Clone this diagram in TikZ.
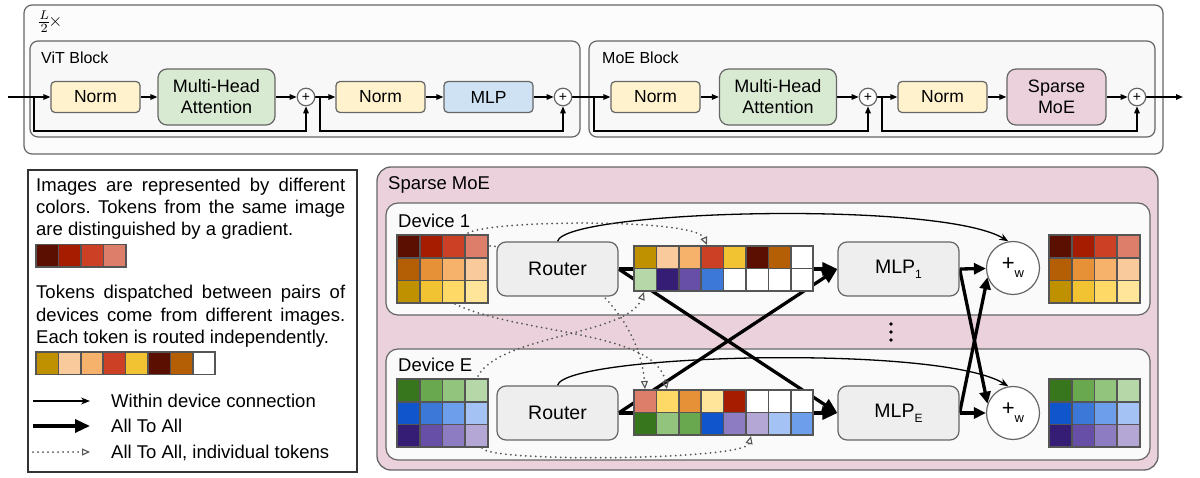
\documentclass[tikz,border=0pt]{standalone}
\usepackage{graphicx}
\usepackage{fontspec}
\setmainfont{Liberation Sans}
\usetikzlibrary{arrows.meta}
\pgfdeclarelayer{bg}
\pgfdeclarelayer{ln}
\pgfsetlayers{bg,ln,main}
\definecolor{bordc}{HTML}{666666}
\definecolor{normc}{HTML}{FFF2CC}
\definecolor{mhac}{HTML}{D9EAD3}
\definecolor{mlpc}{HTML}{CFE2F3}
\definecolor{moec}{HTML}{EAD1DC}
\definecolor{devc}{HTML}{FAFAFA}
\definecolor{outc}{HTML}{FCFCFC}
\definecolor{innc}{HTML}{F8F8F8}
\definecolor{routc}{HTML}{EEEEEE}
\definecolor{cellc}{HTML}{555555}
\definecolor{dotc}{HTML}{555555}
\definecolor{legc}{HTML}{333333}
\definecolor{r1}{HTML}{5B0F00}\definecolor{r2}{HTML}{A61C00}\definecolor{r3}{HTML}{CC4125}\definecolor{r4}{HTML}{DD7E6B}
\definecolor{o1}{HTML}{B45F06}\definecolor{o2}{HTML}{E69138}\definecolor{o3}{HTML}{F6B26B}\definecolor{o4}{HTML}{F9CB9C}
\definecolor{y1}{HTML}{BF9000}\definecolor{y2}{HTML}{F1C232}\definecolor{y3}{HTML}{FFD966}\definecolor{y4}{HTML}{FFE599}
\definecolor{g1}{HTML}{38761D}\definecolor{g2}{HTML}{6AA84F}\definecolor{g3}{HTML}{93C47D}\definecolor{g4}{HTML}{B6D7A8}
\definecolor{b1}{HTML}{1155CC}\definecolor{b2}{HTML}{3C78D8}\definecolor{b3}{HTML}{6D9EEB}\definecolor{b4}{HTML}{A4C2F4}
\definecolor{p1}{HTML}{351C75}\definecolor{p2}{HTML}{674EA7}\definecolor{p3}{HTML}{8E7CC3}\definecolor{p4}{HTML}{B4A7D6}
\newcommand{\tokrow}[4]{\foreach \tkc [count=\tki from 0] in {#4}{\draw[cellst,fill=\tkc] ({#1+\tki*#3},{#2}) rectangle ++(#3,#3);}}
\newcommand{\tokgrid}[5]{\tokrow{#1}{#2}{22.75}{#3}\tokrow{#1}{#2+22.75}{22.75}{#4}\tokrow{#1}{#2+45.5}{22.75}{#5}}
\frenchspacing
\begin{document}
\begin{tikzpicture}[x=1pt,y=-1pt,
  blk/.style={draw=bordc,line width=1.2pt,rounded corners=8pt},
  nbox/.style={draw=bordc,line width=1.2pt,rounded corners=4pt,minimum width=89pt,minimum height=31pt,inner sep=0pt,fill=normc,font=\fontsize{17.5}{21}\selectfont},
  bbox/.style={draw=bordc,line width=1.2pt,rounded corners=9pt,minimum width=117pt,minimum height=56pt,inner sep=0pt,align=center,fill=mhac,font=\fontsize{18}{21}\selectfont},
  pcirc/.style={circle,draw=bordc,line width=1.2pt,fill=white,minimum size=17.5pt,inner sep=0pt,font=\fontsize{14}{14}\selectfont},
  tarr/.style={line width=1.4pt,-{Triangle[length=7pt,width=5.5pt]}},
  rbox/.style={draw=bordc,line width=1.2pt,rounded corners=9pt,fill=routc,minimum width=121pt,minimum height=54pt,inner sep=0pt,font=\fontsize{19.5}{22}\selectfont},
  wcirc/.style={circle,draw=bordc,line width=1.2pt,fill=white,minimum size=53pt,inner sep=0pt,font=\fontsize{22}{22}\selectfont},
  tokph/.style={inner sep=0pt,outer sep=0pt,anchor=north west},
  cellst/.style={draw=cellc,line width=1.6pt},
  conthin/.style={line width=1.3pt,-{Stealth[length=9pt,width=7pt]}},
  conthick/.style={line width=3.3pt,-{Triangle[length=15pt,width=13pt]}},
  contw/.style={line width=3.3pt,-{Triangle[length=12pt,width=11pt]}},
  dotl/.style={draw=dotc,line width=2pt,dash pattern=on 0pt off 5pt,line cap=round,-{Triangle[open,length=8pt,width=7pt,line width=1.1pt]}},
  lbltxt/.style={inner sep=0pt,anchor=west,font=\fontsize{18.5}{22}\selectfont},
  legtxt/.style={inner sep=0pt,anchor=base west,font=\fontsize{18.5}{22}\selectfont},
]
\useasboundingbox (0,0) rectangle (1200,478);
\begin{pgfonlayer}{bg}
\draw[blk,fill=outc] (24,5) rectangle (1163,154);
\draw[blk,fill=innc] (30,41) rectangle (580,137);
\draw[blk,fill=innc] (589,41) rectangle (1155,137);
\draw[draw=bordc,line width=1.3pt,rounded corners=14pt,fill=moec] (377,167) rectangle (1158,470);
\draw[draw=bordc,line width=1.2pt,rounded corners=12pt,fill=devc] (386,203) rectangle (1150,315);
\draw[draw=bordc,line width=1.2pt,rounded corners=12pt,fill=devc] (386,349) rectangle (1150,460);
\draw[draw=legc,line width=1.5pt,fill=white] (28,170) rectangle (357,472);
\end{pgfonlayer}

% ---------- top ----------
\node[inner sep=0pt,anchor=west] (lx) at (37,22) {\scalebox{1.8}{$\frac{L}{2}\!\times$}};
\node[inner sep=0pt,anchor=west,font=\fontsize{16}{19}\selectfont] (vitl) at (41,58) {ViT Block};
\node[inner sep=0pt,anchor=west,font=\fontsize{16}{19}\selectfont] (moel) at (602,58) {MoE Block};
\node[nbox] (n1) at (95.5,97) {Norm};
\node[bbox] (a1) at (216.5,97) {Multi-Head\\Attention};
\node[pcirc] (p1) at (306,97) {+};
\node[nbox] (n2) at (380.5,97) {Norm};
\node[nbox,fill=mlpc] (m1) at (488.5,97) {MLP};
\node[pcirc] (p2) at (563,97) {+};
\node[nbox] (n3) at (655.5,97) {Norm};
\node[bbox] (a2) at (778,97) {Multi-Head\\Attention};
\node[pcirc] (p3) at (868,97) {+};
\node[nbox] (n4) at (942.5,97) {Norm};
\node[bbox,fill=moec,minimum width=99pt] (s1) at (1056.5,97) {Sparse\\MoE};
\node[pcirc] (p4) at (1137,97) {+};
\coordinate (inp) at (8,97);
\coordinate (outp) at (1183,97);
\coordinate (rs1) at (34,97);
\coordinate (rs2) at (320,97);
\coordinate (rs3) at (594,97);
\coordinate (rs4) at (882,97);

% ---------- bottom labels ----------
\node[lbltxt] (smoel) at (388,185) {Sparse MoE};
\node[lbltxt] (dev1l) at (398,221) {Device 1};
\node[lbltxt] (devEl) at (398,365) {Device E};

\node[rbox] (rt1) at (557.5,269) {Router};
\node[rbox] (rtE) at (557.5,413) {Router};
\node[rbox] (e1) at (898.5,269) {MLP\raisebox{-5pt}{\fontsize{12}{12}\selectfont 1}};
\node[rbox] (eE) at (898.5,413) {MLP\raisebox{-5pt}{\fontsize{12}{12}\selectfont E}};
\node[wcirc] (w1) at (1013,268) {+\raisebox{-7pt}{\fontsize{13}{13}\selectfont w}};
\node[wcirc] (wE) at (1013,413) {+\raisebox{-7pt}{\fontsize{13}{13}\selectfont w}};

\node[tokph,minimum width=91pt,minimum height=68.25pt] (in1) at (397,235) {};
\node[tokph,minimum width=91pt,minimum height=68.25pt] (inE) at (397,379) {};
\node[tokph,minimum width=91pt,minimum height=68.25pt] (out1) at (1049,235) {};
\node[tokph,minimum width=91pt,minimum height=68.25pt] (outE) at (1049,379) {};
\node[tokph,minimum width=179.2pt,minimum height=44.8pt] (buf1) at (634,246) {};
\node[tokph,minimum width=179.2pt,minimum height=44.8pt] (bufE) at (634,390) {};

\fill (891,324) circle (1.9);
\fill (891,332) circle (1.9);
\fill (891,340) circle (1.9);

% ---------- legend ----------
\node[legtxt] (t1) at (36,192) {\makebox[309pt][s]{Images are represented by different}};
\node[legtxt] (t2) at (36,214) {\makebox[309pt][s]{colors. Tokens from the same image}};
\node[legtxt] (t3) at (36,236) {are distinguished by a gradient.};
\node[legtxt] (t4) at (36,299) {\makebox[309pt][s]{Tokens dispatched between pairs of}};
\node[legtxt] (t5) at (36,322) {\makebox[309pt][s]{devices come from different images.}};
\node[legtxt] (t6) at (36,344) {Each token is routed independently.};
\node[legtxt] (t7) at (111,407) {Within device connection};
\node[legtxt] (t8) at (111,432) {All To All};
\node[legtxt] (t9) at (111,458) {All To All, individual tokens};
\coordinate (l1a) at (33,401); \coordinate (l1b) at (90,401);
\coordinate (l2a) at (33,426); \coordinate (l2b) at (90,426);
\coordinate (l3a) at (33,452); \coordinate (l3b) at (90,452);

% ---------- connectors ----------
\begin{pgfonlayer}{ln}
\draw[tarr] (inp) -- (n1);
\draw[tarr] (n1) -- (a1);
\draw[tarr] (a1) -- (p1);
\draw[tarr] (p1) -- (n2);
\draw[tarr] (n2) -- (m1);
\draw[tarr] (m1) -- (p2);
\draw[tarr] (p2) -- (n3);
\draw[tarr] (n3) -- (a2);
\draw[tarr] (a2) -- (p3);
\draw[tarr] (p3) -- (n4);
\draw[tarr] (n4) -- (s1);
\draw[tarr] (s1) -- (p4);
\draw[tarr] (p4) -- (outp);
\draw[tarr] (rs1) -- ++(0,34) -| (p1.south);
\draw[tarr] (rs2) -- ++(0,34) -| (p2.south);
\draw[tarr] (rs3) -- ++(0,34) -| (p3.south);
\draw[tarr] (rs4) -- ++(0,34) -| (p4.south);

\draw[conthin] (rt1.north) .. controls (565,210) and (940,200) .. (w1.100);
\draw[conthin] (rtE.north) .. controls (565,354) and (940,344) .. (wE.100);

\draw[conthick] (rt1.east) -- (e1.west);
\draw[conthick] (rt1.east) -- (eE.west);
\draw[conthick] (rtE.east) -- (eE.west);
\draw[conthick] (rtE.east) -- (e1.west);
\draw[contw] (e1.east) -- (w1);
\draw[contw] (e1.east) -- (wE.160);
\draw[contw] (eE.east) -- (wE);
\draw[contw] (eE.east) -- (w1.200);

\coordinate (d1s) at (468,233); \coordinate (d1e) at (707,245);
\coordinate (d2s) at (478,376); \coordinate (d2e) at (644,292);
\coordinate (d3s) at (490,246); \coordinate (d3e) at (645,389);
\coordinate (d4s) at (455,304); \coordinate (d4e) at (667,389);
\coordinate (d5s) at (482,448); \coordinate (d5e) at (751,436);
\draw[dotl] (d1s) .. controls (490,220) and (695,218) .. (d1e);
\draw[dotl] (d2s) .. controls (500,335) and (628,335) .. (d2e);
\draw[dotl] (d3s) .. controls (580,250) and (640,320) .. (d3e);
\draw[dotl] (d4s) .. controls (520,335) and (655,330) .. (d4e);
\draw[dotl] (d5s) .. controls (490,463) and (745,460) .. (d5e);

\draw[conthin] (l1a) -- (l1b);
\draw[conthick] (l2a) -- (l2b);
\draw[dotl] (l3a) -- (l3b);
\end{pgfonlayer}

% ---------- tokens ----------
\tokrow{36}{244.5}{22.5}{r1,r2,r3,r4}
\tokrow{36}{352}{22.4}{y1,o4,o3,r3,y2,r1,o1,white}
\tokgrid{397}{235}{r1,r2,r3,r4}{o1,o2,o3,o4}{y1,y2,y3,y4}
\tokgrid{1049}{235}{r1,r2,r3,r4}{o1,o2,o3,o4}{y1,y2,y3,y4}
\tokgrid{397}{379}{g1,g2,g3,g4}{b1,b2,b3,b4}{p1,p2,p3,p4}
\tokgrid{1049}{379}{g1,g2,g3,g4}{b1,b2,b3,b4}{p1,p2,p3,p4}
\tokrow{634}{246}{22.4}{y1,o4,o3,r3,y2,r1,o1,white}
\tokrow{634}{268.4}{22.4}{g4,p1,p2,b2,white,white,white,white}
\tokrow{634}{390}{22.4}{r4,y3,o2,y4,r2,white,white,white}
\tokrow{634}{412.4}{22.4}{g1,g3,g2,b1,p3,p4,b4,b3}
\end{tikzpicture}
\end{document}
